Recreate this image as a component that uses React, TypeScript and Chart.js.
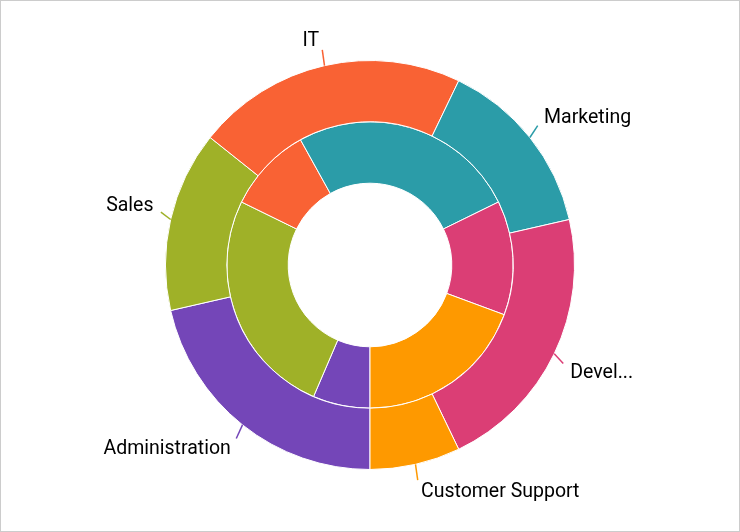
import { useEffect, useRef } from 'react';
import Chart from 'chart.js/auto';

const categories = ['Administration', 'Sales', 'IT', 'Marketing', 'Development', 'Customer Support'];
// text shown next to the outer ring (Development is cut short in the original)
const outerLabels = ['Administration', 'Sales', 'IT', 'Marketing', 'Devel...', 'Customer Support'];
const outerValues = [30, 20, 30, 20, 30, 10];
const innerValues = [20, 80, 30, 80, 40, 60];
const colors = ['#7446b8', '#9fb128', '#f96234', '#2b9ca8', '#db3e75', '#fe9900'];

const outsideLabels = {
  id: 'outsideLabels',
  afterDatasetsDraw(chart: any) {
    const ctx = chart.ctx;
    const meta = chart.getDatasetMeta(0);
    ctx.save();
    ctx.font = '19.5px Roboto';
    ctx.textBaseline = 'middle';
    meta.data.forEach((arc: any, i: number) => {
      const { x, y, startAngle, endAngle, outerRadius } = arc.getProps(
        ['x', 'y', 'startAngle', 'endAngle', 'outerRadius'],
        true
      );
      const mid = (startAngle + endAngle) / 2;
      const cx = Math.cos(mid);
      const sy = Math.sin(mid);
      // connector leans towards the vertical, like the original
      const x1 = x + cx * outerRadius;
      const y1 = y + sy * outerRadius;
      const x2 = x1 + 10 * cx;
      const y2 = y1 + Math.sign(sy) * (5 + 11 * Math.abs(sy));
      ctx.strokeStyle = colors[i];
      ctx.lineWidth = 1.5;
      ctx.beginPath();
      ctx.moveTo(x1, y1);
      ctx.lineTo(x2, y2);
      ctx.stroke();

      ctx.fillStyle = '#000';
      ctx.textAlign = cx >= 0 ? 'left' : 'right';
      const tx = x2 + Math.sign(cx) * (2 + 5.5 * Math.abs(cx));
      const ty = y2 + Math.sign(sy) * (6 + 4.5 * Math.abs(sy)) + 1.5;
      ctx.fillText(outerLabels[i], tx, ty);
    });
    ctx.restore();
  },
};

export default function App() {
  const canvasRef = useRef<HTMLCanvasElement | null>(null);
  const chartRef = useRef<Chart | null>(null);

  useEffect(() => {
    if (!canvasRef.current) return;
    if (chartRef.current) chartRef.current.destroy();

    chartRef.current = new Chart(canvasRef.current, {
      type: 'doughnut',
      data: {
        labels: categories,
        datasets: [
          {
            data: outerValues,
            backgroundColor: colors,
            borderColor: '#ffffff',
            borderWidth: 1,
            hoverOffset: 0,
          },
          {
            data: innerValues,
            backgroundColor: colors,
            borderColor: '#ffffff',
            borderWidth: 1,
            hoverOffset: 0,
          },
        ],
      },
      options: {
        responsive: true,
        maintainAspectRatio: false,
        animation: false,
        rotation: 180,
        cutout: '40%',
        layout: { padding: { left: 164, right: 164, top: 59, bottom: 61 } },
        plugins: {
          legend: { display: false },
          tooltip: { enabled: false },
        },
      },
      plugins: [outsideLabels],
    });

    return () => {
      chartRef.current?.destroy();
      chartRef.current = null;
    };
  }, []);

  return (
    <div
      style={{
        position: 'absolute',
        left: 0,
        top: 0,
        width: 740,
        height: 532,
        boxSizing: 'border-box',
        border: '1px solid #cccccc',
        background: '#ffffff',
      }}
    >
      <div style={{ position: 'relative', width: 738, height: 530 }}>
        <canvas ref={canvasRef} />
      </div>
    </div>
  );
}
